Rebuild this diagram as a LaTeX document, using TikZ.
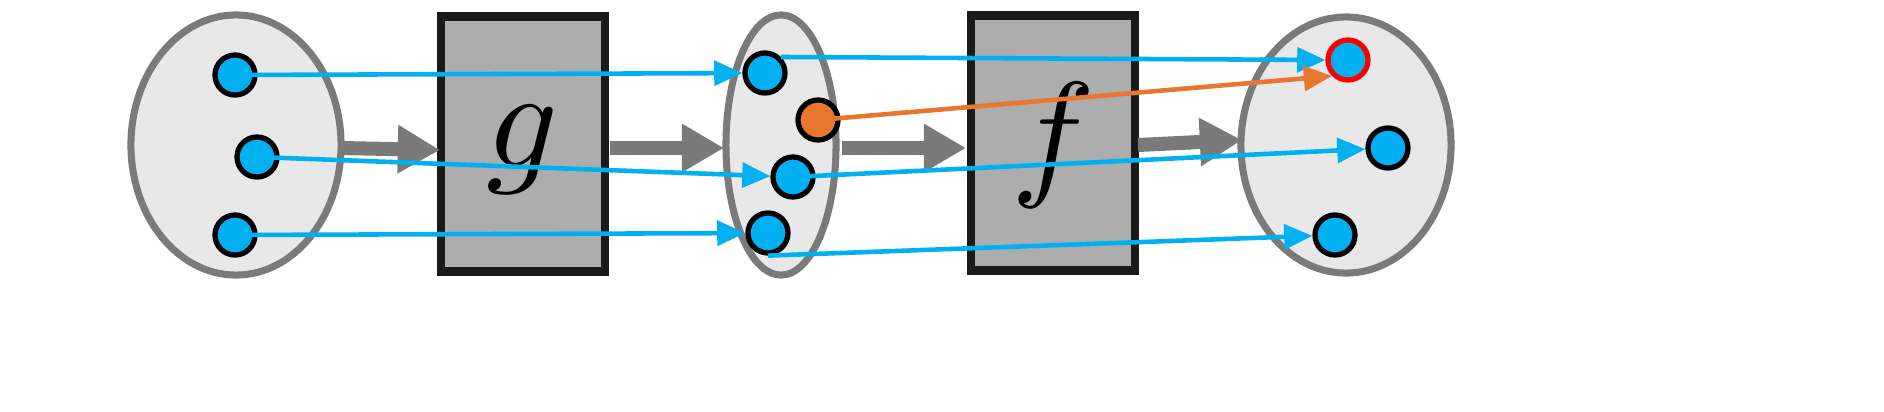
\documentclass[tikz,border=0pt]{standalone}
\usetikzlibrary{arrows.meta,shapes.geometric}
\definecolor{ell}{HTML}{E8E8E8}
\definecolor{ellb}{HTML}{7A7A7A}
\definecolor{boxf}{HTML}{ADADAD}
\definecolor{boxb}{HTML}{1A1A1A}
\definecolor{dotb}{HTML}{00B0F0}
\definecolor{dotor}{HTML}{E87530}
\tikzset{
 x=0.01cm,y=-0.01cm,
 setel/.style={ellipse,draw=ellb,fill=ell,line width=2pt,inner sep=0pt},
 fbox/.style={draw=boxb,fill=boxf,line width=2.4pt,minimum width=1.64cm,minimum height=2.55cm,inner sep=0pt},
 dot/.style={circle,draw=black,fill=dotb,line width=1.5pt,minimum size=0.4cm,inner sep=0pt},
 bigarr/.style={draw=ellb,line width=4pt,-{Triangle[length=12pt,width=13pt]}},
 map/.style={draw=dotb,line width=1.3pt,-{Triangle[length=8pt,width=7pt]}},
 omap/.style={draw=dotor,line width=1.3pt,-{Triangle[length=8pt,width=7pt]}},
}
\begin{document}
\begin{tikzpicture}
\useasboundingbox (0,0) rectangle (1884,412);
\node[setel,minimum width=2.1cm,minimum height=2.6cm] (A) at (236,145) {};
\node[setel,minimum width=1.1cm,minimum height=2.6cm] (B) at (781,145) {};
\node[setel,minimum width=2.1cm,minimum height=2.56cm] (C) at (1346,145) {};
\node[fbox] (g) at (523,144) {};
\node[fbox] (f) at (1053,143) {};
\node[scale=4] (gl) at (523,150) {$g$};
\node[scale=4] (fl) at (1053,145) {$f$};
\coordinate (a1) at (340,148); \coordinate (a2) at (440,150);
\coordinate (b1) at (610,148); \coordinate (b2) at (724,148);
\coordinate (c1) at (842,148); \coordinate (c2) at (966,148);
\coordinate (d1) at (1138,145); \coordinate (d2) at (1242,140);
\draw[bigarr] (a1) -- (a2);
\draw[bigarr] (b1) -- (b2);
\draw[bigarr] (c1) -- (c2);
\draw[bigarr] (d1) -- (d2);
\node[dot] (l1) at (235,75) {};
\node[dot] (l2) at (257,157) {};
\node[dot] (l3) at (235,235) {};
\node[dot] (m1) at (765,73) {};
\node[dot,fill=dotor] (m2) at (818,120) {};
\node[dot] (m3) at (793,177) {};
\node[dot] (m4) at (768,233) {};
\node[dot,draw=red] (r1) at (1348,60) {};
\node[dot] (r2) at (1388,148) {};
\node[dot] (r3) at (1335,235) {};
\draw[map] (l1.center) -- (m1);
\draw[map] (l2.center) -- (m3);
\draw[map] (l3.center) -- (m4);
\draw[map] (m1.north east) -- (r1.west);
\draw[map] (m3.center) -- (r2);
\draw[map] (m4.south) -- (r3);
\draw[omap] (m2.center) -- (r1.south west);
\end{tikzpicture}
\end{document}
